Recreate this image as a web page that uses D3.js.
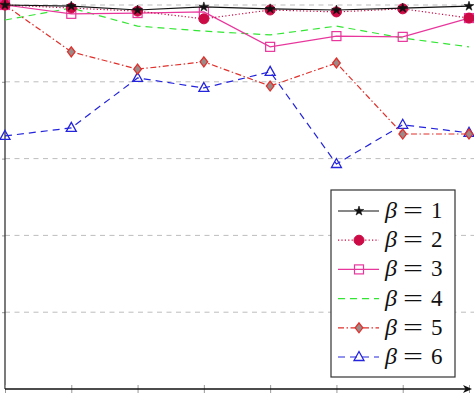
<!DOCTYPE html>
<html><head><meta charset="utf-8">
<script src="https://cdn.jsdelivr.net/npm/d3@7"></script>
<style>html,body{margin:0;padding:0;background:#fff;}svg{display:block;}</style>
</head><body>
<svg id="c" width="474" height="395"></svg>
<script>
const xIndex = [0,1,2,3,4,5,6,7];
const yTicks = [0.2,0.4,0.6,0.8,1.0];
const seriesNames = ["β = 1","β = 2","β = 3","β = 4","β = 5","β = 6"];
const beta1 = [1.0,0.997,0.987,0.995,0.990,0.987,0.992,0.997];
const beta2 = [1.0,0.992,0.984,0.964,0.987,0.982,0.990,0.966];
const beta3 = [1.0,0.977,0.979,0.982,0.891,0.919,0.917,0.966];
const beta4 = [0.961,0.992,0.945,0.932,0.922,0.945,0.914,0.891];
const beta5 = [1.0,0.878,0.833,0.852,0.789,0.849,0.664,0.664];
const beta6 = [0.659,0.680,0.810,0.784,0.826,0.586,0.688,0.667];

const svg = d3.select("#c");
const x = d3.scaleLinear().domain([0,7]).range([5,469]);
const y = d3.scaleLinear().domain([0,1]).range([389,5]);

// gridlines
svg.append("g").selectAll("line").data(yTicks).join("line")
  .attr("x1",5).attr("x2",474).attr("y1",d=>y(d)).attr("y2",d=>y(d))
  .attr("stroke","#bdbdbd").attr("stroke-width",1).attr("stroke-dasharray","5,4.5");

// y axis
const yAxis = d3.axisLeft(y).tickValues(yTicks).tickSize(3).tickSizeOuter(0).tickFormat("");
const gy = svg.append("g").attr("transform","translate(5,0)").call(yAxis);
gy.select(".domain").remove();
gy.selectAll(".tick line").attr("stroke","#999").attr("x2",-3);
svg.append("line").attr("x1",5).attr("x2",5).attr("y1",0).attr("y2",389)
  .attr("stroke","#333").attr("stroke-width",1.3);

// x axis
const xAxis = d3.axisBottom(x).tickValues(xIndex).tickSize(4).tickFormat("");
const gx = svg.append("g").attr("transform","translate(0,389)").call(xAxis);
gx.select(".domain").remove();
gx.selectAll(".tick line").attr("stroke","#999").attr("y1",-4).attr("y2",4);
svg.append("line").attr("x1",5).attr("x2",469).attr("y1",389).attr("y2",389)
  .attr("stroke","#111").attr("stroke-width",1.3);
svg.append("path").attr("d","M463,385 L472,389 L463,393 L465.5,389 Z").attr("fill","#111");

const series = [
  {name:seriesNames[0], v:beta1, color:"#111", dash:null, marker:"star"},
  {name:seriesNames[1], v:beta2, color:"#cc0a45", dash:"1.2,2.2", marker:"circle"},
  {name:seriesNames[2], v:beta3, color:"#e8369c", dash:null, marker:"square"},
  {name:seriesNames[3], v:beta4, color:"#33e633", dash:"7,5", marker:null},
  {name:seriesNames[4], v:beta5, color:"#e0302c", dash:"6,2.5,1.5,2.5", marker:"diamond"},
  {name:seriesNames[5], v:beta6, color:"#2424dd", dash:"7,5", marker:"triangle"}
];

function drawMarker(g, type, color, cx, cy){
  if(type==="star"){
    g.append("path").attr("d", d3.symbol().type(d3.symbolStar).size(28)())
     .attr("transform",`translate(${cx},${cy})`).attr("fill","#111").attr("stroke","#111").attr("stroke-width",0.6);
  } else if(type==="circle"){
    g.append("circle").attr("cx",cx).attr("cy",cy).attr("r",5).attr("fill",color).attr("stroke",color);
  } else if(type==="square"){
    g.append("rect").attr("x",cx-4.5).attr("y",cy-4.5).attr("width",9).attr("height",9)
     .attr("fill","none").attr("stroke",color).attr("stroke-width",1.2);
  } else if(type==="diamond"){
    g.append("path").attr("d",`M${cx},${cy-5} L${cx+3.8},${cy} L${cx},${cy+5} L${cx-3.8},${cy} Z`)
     .attr("fill","#9a8a88").attr("stroke",color).attr("stroke-width",1.3);
  } else if(type==="triangle"){
    g.append("path").attr("d",`M${cx},${cy-5.5} L${cx+5},${cy+3.5} L${cx-5},${cy+3.5} Z`)
     .attr("fill","none").attr("stroke",color).attr("stroke-width",1.3);
  }
}

const line = d3.line().x((d,i)=>x(xIndex[i])).y(d=>y(d));
const order = [3,5,4,2,1,0];
order.forEach(k=>{
  const s = series[k];
  const g = svg.append("g");
  g.append("path").attr("d",line(s.v)).attr("fill","none").attr("stroke",s.color)
   .attr("stroke-width",1.2).attr("stroke-dasharray",s.dash);
  if(s.marker) s.v.forEach((v,i)=>drawMarker(g,s.marker,s.color,x(xIndex[i]),y(v)));
});

// legend
const lg = svg.append("g");
lg.append("rect").attr("x",331).attr("y",190).attr("width",124).attr("height",187)
  .attr("fill","#fff").attr("stroke","#333").attr("stroke-width",1.2);
const serif = "'Liberation Serif','DejaVu Serif',serif";
series.forEach((s,i)=>{
  const cy = 211 + i*29.2;
  lg.append("line").attr("x1",338).attr("x2",379).attr("y1",cy).attr("y2",cy)
    .attr("stroke",s.color).attr("stroke-width",1.2).attr("stroke-dasharray",s.dash);
  if(s.marker) drawMarker(lg,s.marker,s.color,359,cy);
  const [b, eq, n] = s.name.split(" ");
  lg.append("text").attr("x",385).attr("y",cy+7).attr("font-family",serif)
    .attr("font-style","italic").attr("font-size",24).attr("fill","#111").text(b);
  lg.append("text").attr("x",403).attr("y",cy+7).attr("font-family",serif)
    .attr("font-size",24).attr("fill","#111")
    .attr("textLength",20).attr("lengthAdjust","spacingAndGlyphs").text(eq);
  lg.append("text").attr("x",431).attr("y",cy+7).attr("font-family",serif)
    .attr("font-size",23).attr("fill","#111").text(n);
});
</script>
</body></html>
